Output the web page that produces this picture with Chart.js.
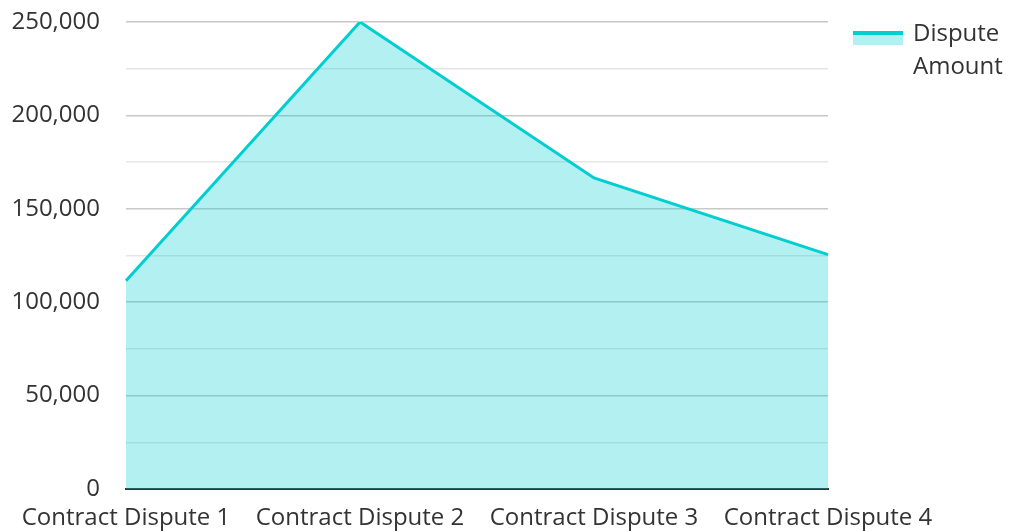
<!DOCTYPE html>
<html>
<head>
<meta charset="utf-8">
<script src="https://cdn.jsdelivr.net/npm/chart.js@4"></script>
<style>
  html, body { margin: 0; padding: 0; background: #fff; }
  #wrap { width: 1009px; height: 531px; }
</style>
</head>
<body>
<div id="wrap"><canvas id="canvas"></canvas></div>
<script>
const categories = ['Contract Dispute 1', 'Contract Dispute 2', 'Contract Dispute 3', 'Contract Dispute 4']
const disputeAmount = [111500, 250000, 166500, 125500]
const seriesLabel = ['Dispute', 'Amount']

const lineColor = '#00CED1'
const fillColor = 'rgba(0, 206, 209, 0.3)'
const textColor = '#333333'
const fontFamily = '"Open Sans", "Noto Sans", sans-serif'

// legend drawn by hand so the label can wrap on two lines
const sideLegend = {
  id: 'sideLegend',
  afterDraw(chart) {
    const ctx = chart.ctx
    const x = 853
    const y = 33
    ctx.save()
    ctx.fillStyle = fillColor
    ctx.fillRect(x, y, 50, 12)
    ctx.strokeStyle = lineColor
    ctx.lineWidth = 4
    ctx.beginPath()
    ctx.moveTo(x, y)
    ctx.lineTo(x + 50, y)
    ctx.stroke()
    ctx.fillStyle = textColor
    ctx.font = '24px ' + fontFamily
    ctx.textBaseline = 'middle'
    ctx.textAlign = 'left'
    for (let i = 0; i < seriesLabel.length; i++) {
      ctx.fillText(seriesLabel[i], x + 60, y + 1 + i * 33)
    }
    ctx.restore()
  }
}

// drop the automatic label overflow padding, the layout padding handles it
function noPadding(scale) {
  scale.paddingLeft = 0
  scale.paddingRight = 0
  scale.paddingTop = 0
  scale.paddingBottom = 0
}

Chart.defaults.font.family = fontFamily
Chart.defaults.font.size = 24
Chart.defaults.color = textColor

new Chart(document.getElementById('canvas'), {
  type: 'line',
  data: {
    labels: categories,
    datasets: [{
      label: seriesLabel.join(' '),
      data: disputeAmount,
      borderColor: lineColor,
      backgroundColor: fillColor,
      borderWidth: 3,
      fill: 'origin',
      tension: 0,
      pointRadius: 0
    }]
  },
  options: {
    responsive: true,
    maintainAspectRatio: false,
    animation: false,
    layout: { padding: { left: 12, right: 181, top: 22, bottom: 0 } },
    plugins: {
      legend: { display: false },
      tooltip: { enabled: false }
    },
    scales: {
      x: {
        offset: false,
        grid: { display: false, drawTicks: false },
        border: { display: true, color: '#333333', width: 2 },
        ticks: { padding: 15, maxRotation: 0, minRotation: 0, autoSkip: false },
        afterFit: s => { noPadding(s); s.height = 42 }
      },
      y: {
        min: 0,
        max: 250000,
        grid: {
          drawTicks: false,
          color: c => (c.tick && c.tick.value % 50000 === 0) ? '#c8c8c8' : '#e6e6e6',
          lineWidth: 1.5
        },
        border: { display: false },
        ticks: {
          stepSize: 25000,
          padding: 26,
          callback: v => v % 50000 === 0 ? v.toLocaleString('en-US') : ''
        },
        afterFit: s => { noPadding(s); s.width = 114 }
      }
    }
  },
  plugins: [sideLegend]
})
</script>
</body>
</html>
